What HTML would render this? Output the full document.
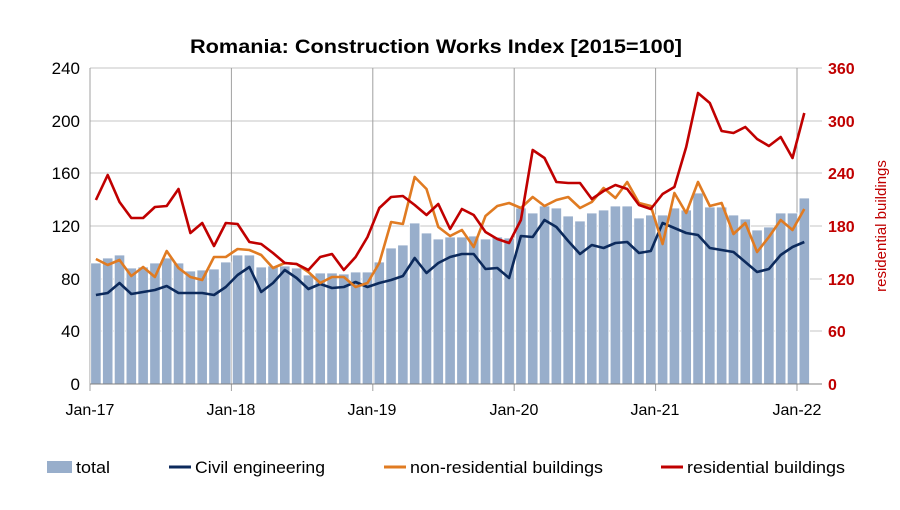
<!DOCTYPE html>
<html><head><meta charset="utf-8"><style>body{margin:0;background:#fff}svg{display:block;font-family:"Liberation Sans",sans-serif}</style></head><body>
<svg id="s" width="900" height="510" xmlns="http://www.w3.org/2000/svg">
<text x="190" y="53" textLength="492" lengthAdjust="spacingAndGlyphs" font-size="19" font-weight="bold" fill="#000">Romania: Construction Works Index [2015=100]</text>
<g stroke="#d9d9d9" stroke-width="1.5">
<line x1="90" x2="822" y1="68" y2="68"/><line x1="90" x2="822" y1="121" y2="121"/><line x1="90" x2="822" y1="173" y2="173"/><line x1="90" x2="822" y1="226" y2="226"/><line x1="90" x2="822" y1="279" y2="279"/><line x1="90" x2="822" y1="331" y2="331"/>
</g>
<g stroke="#a0a0a0" stroke-width="1">
<line x1="231.4" x2="231.4" y1="68" y2="391"/><line x1="372.8" x2="372.8" y1="68" y2="391"/><line x1="514.2" x2="514.2" y1="68" y2="391"/><line x1="655.6" x2="655.6" y1="68" y2="391"/><line x1="797" x2="797" y1="68" y2="391"/>
<line x1="90" x2="90" y1="68" y2="391"/>
</g>
<g id="bars" fill="#98aecb" stroke="#fff" stroke-width="0.8"></g>
<line x1="90" x2="822" y1="384" y2="384" stroke="#808080" stroke-width="1"/>
<g id="lines" fill="none" stroke-width="2.6" stroke-linejoin="round"></g>
<g font-size="17" fill="#000" text-anchor="end">
<text x="80" y="74">240</text><text x="80" y="127">200</text><text x="80" y="179">160</text><text x="80" y="232">120</text><text x="80" y="285">80</text><text x="80" y="337">40</text><text x="80" y="390">0</text>
</g>
<g font-size="16" fill="#c00000" font-weight="bold">
<text x="828" y="74">360</text><text x="828" y="127">300</text><text x="828" y="179">240</text><text x="828" y="232">180</text><text x="828" y="285">120</text><text x="828" y="337">60</text><text x="828" y="390">0</text>
</g>
<text transform="translate(886,226) rotate(-90)" text-anchor="middle" font-size="15" fill="#c00000">residential buildings</text>
<g font-size="16" fill="#000" text-anchor="middle">
<text x="90" y="415">Jan-17</text><text x="231" y="415">Jan-18</text><text x="372" y="415">Jan-19</text><text x="514" y="415">Jan-20</text><text x="655" y="415">Jan-21</text><text x="797" y="415">Jan-22</text>
</g>
<g font-size="17" fill="#000">
<rect x="47" y="461" width="25" height="12" fill="#98aecb"/><text x="76" y="473" textLength="34" lengthAdjust="spacingAndGlyphs">total</text>
<line x1="169" x2="191" y1="467" y2="467" stroke="#0c2a5c" stroke-width="3"/><text x="195" y="473" textLength="130" lengthAdjust="spacingAndGlyphs">Civil engineering</text>
<line x1="384" x2="406" y1="467" y2="467" stroke="#e07b22" stroke-width="3"/><text x="410" y="473" textLength="193" lengthAdjust="spacingAndGlyphs">non-residential buildings</text>
<line x1="661" x2="683" y1="467" y2="467" stroke="#c00000" stroke-width="3"/><text x="687" y="473" textLength="158" lengthAdjust="spacingAndGlyphs">residential buildings</text>
</g>
</svg>
<script>
var bars=[263,258,255,268,267,263,258,263,271,270,269,262,255,255,267,266,266,268,275,273,273,274,272,272,262,248,245,223,233,239,237,237,236,239,237,238,208,213,206,208,216,221,213,210,206,206,218,215,215,208,210,193,207,207,215,219,230,227,213,213,198];
var red=[200,175,202,218,218,207,206,189,233,223,246,223,224,242,244,253,263,264,270,257,254,270,257,237,208,197,196,205,215,204,229,209,215,232,239,243,220,150,158,182,183,183,199,191,185,189,205,209,194,187,147,93,103,131,133,127,139,146,137,158,113];
var org=[259,265,260,276,267,277,251,268,277,280,257,257,249,250,255,268,263,264,272,283,277,277,287,283,263,222,224,177,189,227,236,230,247,216,206,203,208,197,206,200,197,208,202,188,198,182,203,206,244,193,213,182,206,203,234,223,252,237,220,230,209];
var nav=[295,293,283,294,292,290,286,293,293,293,295,287,275,267,292,283,270,278,289,284,288,287,282,287,283,280,276,258,273,263,257,254,254,269,268,278,236,237,220,227,241,254,245,248,243,242,253,251,223,228,233,235,248,250,252,262,272,269,255,247,242];
var ns="http://www.w3.org/2000/svg",w=732/62;
function cx(i){return 90+w*(i+0.5);}
var b=document.getElementById("bars");
bars.forEach(function(y,i){var r=document.createElementNS(ns,"rect");r.setAttribute("x",cx(i)-5.2);r.setAttribute("width",10.4);r.setAttribute("y",y);r.setAttribute("height",384-y);b.appendChild(r);});
var L=document.getElementById("lines");
[[nav,"#0c2a5c"],[org,"#e07b22"],[red,"#c00000"]].forEach(function(s){var p=document.createElementNS(ns,"polyline");p.setAttribute("points",s[0].map(function(y,i){return cx(i).toFixed(1)+","+y;}).join(" "));p.setAttribute("stroke",s[1]);L.appendChild(p);});
</script>
</body></html>
